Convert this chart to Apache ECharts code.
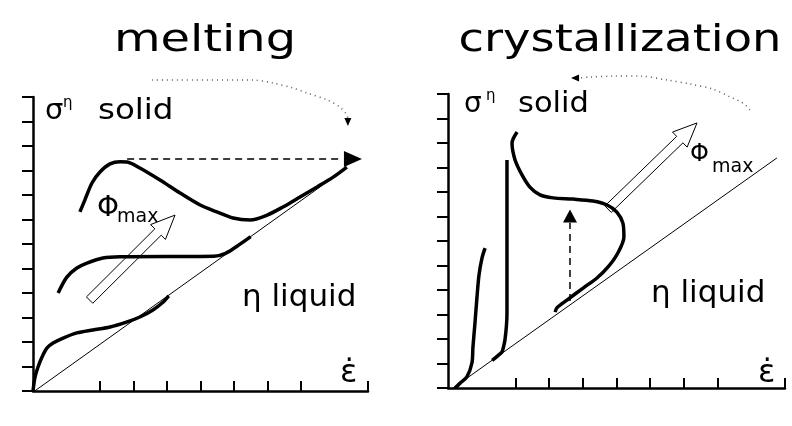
<!DOCTYPE html>
<html>
<head>
<meta charset="utf-8">
<script src="https://cdn.jsdelivr.net/npm/echarts@6/dist/echarts.min.js"></script>
<style>
html, body { margin: 0; background: #fff; }
#main { width: 792px; height: 426px; }
</style>
</head>
<body>
<div id="main"></div>
<script>
// axis ranges and ticks (schematic units)
var xMax = 10, yMax = 12;
var xTicks = [2, 3, 4, 5, 6, 7, 8, 10];

// melting panel
var meltDiag = [[0.05, 0], [9.0, 8.75]];
var meltLow = [[0, 0], [0.06, 0.57], [0.15, 0.98], [0.27, 1.39], [0.42, 1.76], [0.6, 1.96], [0.9, 2.16],
  [1.31, 2.37], [1.79, 2.49], [2.3, 2.61], [2.81, 2.82], [3.19, 3.02], [3.58, 3.31], [3.88, 3.62], [4.05, 3.88]];
var meltMid = [[0.75, 4.0], [1.01, 4.65], [1.31, 5.02], [1.61, 5.22], [2.09, 5.43], [2.6, 5.48],
  [5.4, 5.5], [5.75, 5.62], [6.1, 5.92], [6.5, 6.3]];
var meltHigh = [[1.4, 7.31], [1.55, 7.8], [1.76, 8.49], [2.0, 8.94], [2.3, 9.27], [2.6, 9.36], [2.81, 9.35],
  [3.19, 9.1], [3.79, 8.61], [4.39, 8.08], [4.99, 7.59], [5.49, 7.31], [5.97, 7.06], [6.48, 6.98],
  [6.99, 7.18], [7.46, 7.51], [7.97, 7.92], [8.48, 8.33], [8.96, 8.73], [9.37, 9.14]];
var meltJump = [[2.81, 9.47], [9.25, 9.47]];
var meltHead = [[9.55, 9.47]];
var meltFlow = [[1.69, 3.71, 4.24, 7.18]];
var meltArc = [[3.55, 12.69], [6.57, 12.69], [7.16, 12.57], [7.76, 12.37], [8.18, 12.16], [8.78, 11.88],
  [9.16, 11.59], [9.37, 11.27], [9.4, 11.1]];
var meltArcHead = [[9.4, 10.98]];

// crystallization panel
var crysDiag = [[0.15, 0], [9.76, 9.39]];
var crysA = [[0.21, 0], [0.36, 0.2], [0.56, 0.45], [0.71, 1.02], [0.74, 1.67], [0.8, 2.65], [0.86, 3.71],
  [0.92, 4.61], [1.01, 5.31], [1.1, 5.71]];
var crysB = [[1.31, 1.13], [1.6, 1.47], [1.69, 1.96], [1.75, 3.06], [1.75, 9.31]];
var crysC = [[2.05, 10.45], [1.9, 10.0], [1.99, 9.31], [2.2, 8.69], [2.43, 8.2], [2.73, 7.88], [3.12, 7.76],
  [3.71, 7.71], [4.3, 7.63], [4.72, 7.47], [5.01, 7.18], [5.19, 6.73], [5.22, 6.16], [5.04, 5.51],
  [4.75, 4.94], [4.42, 4.49], [4.01, 4.08], [3.53, 3.59], [3.23, 3.27], [3.18, 3.1]];
var crysJump = [[3.62, 3.55], [3.62, 6.75]];
var crysHead = [[3.62, 7.02]];
var crysFlow = [[4.75, 7.3, 7.39, 10.82]];
var crysArc = [[8.96, 11.35], [8.75, 11.63], [8.37, 11.88], [7.86, 12.2], [7.18, 12.41], [6.5, 12.57],
  [5.7, 12.73], [4.9, 12.73], [4.21, 12.69], [3.95, 12.66]];
var crysArcHead = [[3.77, 12.65]];

var FONT = 'DejaVu Sans';
var chart = echarts.init(document.getElementById('main'));

function makeX(gi) {
  return {
    type: 'value', gridIndex: gi, min: 0, max: xMax, interval: 1,
    axisLine: { show: true, lineStyle: { color: '#000', width: 2.5 } },
    axisTick: { show: true, inside: true, length: 10, customValues: xTicks, lineStyle: { color: '#000', width: 2 } },
    axisLabel: { show: false },
    splitLine: { show: false }
  };
}
function makeY(gi) {
  return {
    type: 'value', gridIndex: gi, min: 0, max: yMax, interval: 1,
    axisLine: { show: true, lineStyle: { color: '#000', width: 2.5 } },
    axisTick: { show: true, inside: false, length: 11, lineStyle: { color: '#000', width: 2 } },
    axisLabel: { show: false },
    splitLine: { show: false }
  };
}
function curve(data, gi, width, smooth, extra) {
  var s = {
    type: 'line', xAxisIndex: gi, yAxisIndex: gi, data: data,
    symbol: 'none', smooth: smooth, z: 4,
    lineStyle: { color: '#000', width: width }
  };
  return Object.assign(s, extra || {});
}
function head(data, gi, size, rot) {
  return {
    type: 'scatter', xAxisIndex: gi, yAxisIndex: gi, data: data,
    symbol: 'triangle', symbolSize: size, symbolRotate: rot, z: 5,
    itemStyle: { color: '#000', opacity: 1 }, clip: false
  };
}
function hollowArrow(params, api) {
  var a = api.coord([api.value(0), api.value(1)]);
  var b = api.coord([api.value(2), api.value(3)]);
  var dx = b[0] - a[0], dy = b[1] - a[1];
  var len = Math.sqrt(dx * dx + dy * dy);
  var ux = dx / len, uy = dy / len, nx = -uy, ny = ux;
  var w = 4.5, h = 10.5, hl = 24;
  var bx = b[0] - ux * hl, by = b[1] - uy * hl;
  var pts = [
    [a[0] + nx * w, a[1] + ny * w], [bx + nx * w, by + ny * w], [bx + nx * h, by + ny * h], b,
    [bx - nx * h, by - ny * h], [bx - nx * w, by - ny * w], [a[0] - nx * w, a[1] - ny * w]
  ];
  return { type: 'polygon', shape: { points: pts }, style: { fill: '#fff', stroke: '#000', lineWidth: 1 } };
}
function flow(data, gi) {
  return {
    type: 'custom', xAxisIndex: gi, yAxisIndex: gi, data: data, z: 2,
    renderItem: hollowArrow, encode: { x: [0, 2], y: [1, 3] }, clip: false
  };
}
function txt(x, y, s, size, extra, align) {
  var t = {
    type: 'text', x: x, y: y, z: 10,
    style: { text: s, fontFamily: FONT, fontSize: size, fill: '#000', align: align || 'left', verticalAlign: 'middle' }
  };
  return Object.assign(t, extra || {});
}

var option = {
  animation: false,
  backgroundColor: '#fff',
  grid: [
    { left: 33, top: 97, width: 335, height: 294 },
    { left: 448, top: 94, width: 337, height: 294 }
  ],
  xAxis: [makeX(0), makeX(1)],
  yAxis: [makeY(0), makeY(1)],
  graphic: [
    txt(205, 41.6, 'melting', 38, { scaleX: 1.26 }, 'center'),
    txt(620, 41.6, 'crystallization', 38, { scaleX: 1.22 }, 'center'),
    txt(45, 111, 'σ', 29),
    txt(63, 103.5, 'η', 15),
    txt(98, 111, 'solid', 29, { scaleX: 1.12 }),
    txt(464, 104.5, 'σ', 28),
    txt(486, 96.5, 'η', 15),
    txt(518, 104.6, 'solid', 28, { scaleX: 1.09 }),
    txt(242, 297.7, 'η liquid', 31),
    txt(651, 293.7, 'η liquid', 31),
    txt(340, 373.4, 'ε\u0307', 32),
    txt(758, 373.4, 'ε\u0307', 32),
    txt(97, 208.6, 'Φ', 28),
    txt(117, 217.3, 'max', 19),
    txt(690, 154.8, 'Φ', 24),
    txt(712, 167.3, 'max', 19)
  ],
  series: [
    curve(meltDiag, 0, 1, false),
    curve(meltLow, 0, 3.5, 0.3),
    curve(meltMid, 0, 3.5, 0.3),
    curve(meltHigh, 0, 3.5, 0.3),
    curve(meltJump, 0, 1.5, false, { lineStyle: { color: '#000', width: 1.5, type: [7, 5] } }),
    head(meltHead, 0, [16, 18], -90),
    flow(meltFlow, 0),
    curve(meltArc, 0, 1.5, 0.3, { clip: false, lineStyle: { color: '#555', width: 1.5, type: [1, 4] } }),
    head(meltArcHead, 0, [7, 8], 180),

    curve(crysDiag, 1, 1, false),
    curve(crysA, 1, 3.5, 0.3),
    curve(crysB, 1, 3.5, 0.15),
    curve(crysC, 1, 3.5, 0.3),
    curve(crysJump, 1, 1.5, false, { lineStyle: { color: '#000', width: 1.5, type: [7, 5] } }),
    head(crysHead, 1, [14, 13], 0),
    flow(crysFlow, 1),
    curve(crysArc, 1, 1.5, 0.3, { clip: false, lineStyle: { color: '#555', width: 1.5, type: [1, 4] } }),
    head(crysArcHead, 1, [7, 8], 90)
  ]
};
chart.setOption(option);
</script>
</body>
</html>
